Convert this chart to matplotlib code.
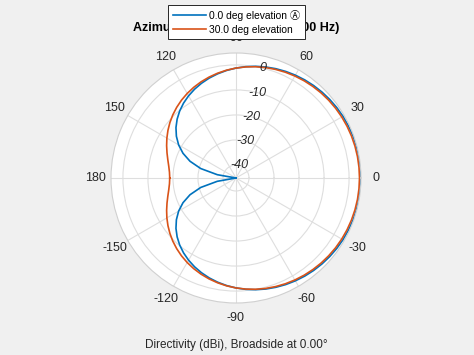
import numpy as np
import matplotlib
matplotlib.use("Agg")
import matplotlib.pyplot as plt

plt.rcParams['font.family'] = ['Liberation Sans', 'Noto Sans CJK SC', 'DejaVu Sans']

# ---- data ----
azimuth_deg = np.arange(-180, 181, 5)
el0_dbi = [
    -45.2, -45.2, -37.62, -30.60, -25.64, -21.82, -18.71, -16.11, -13.87, -11.92,
    -10.19, -8.65, -7.27, -6.02, -4.89, -3.85, -2.91, -2.04, -1.25, -0.53,
    0.14, 0.75, 1.30, 1.81, 2.27, 2.69, 3.06, 3.39, 3.69, 3.95,
    4.17, 4.35, 4.50, 4.62, 4.70, 4.75,
    4.77,
    4.75, 4.70, 4.62, 4.50, 4.35, 4.17, 3.95, 3.69, 3.39, 3.06,
    2.69, 2.27, 1.81, 1.30, 0.75, 0.14, -0.53, -1.25, -2.04, -2.91,
    -3.85, -4.89, -6.02, -7.27, -8.65, -10.19, -11.92, -13.87, -16.11, -18.71,
    -21.82, -25.64, -30.60, -37.62, -45.2, -45.2]
el30_dbi = [
    -18.71, -18.50, -17.90, -16.98, -15.85, -14.60, -13.29, -11.99, -10.71, -9.48,
    -8.32, -7.21, -6.18, -5.21, -4.30, -3.46, -2.67, -1.93, -1.25, -0.62,
    -0.03, 0.51, 1.00, 1.46, 1.87, 2.25, 2.59, 2.90, 3.17, 3.41,
    3.61, 3.78, 3.92, 4.03, 4.11, 4.15,
    4.17,
    4.15, 4.11, 4.03, 3.92, 3.78, 3.61, 3.41, 3.17, 2.90, 2.59,
    2.25, 1.87, 1.46, 1.00, 0.51, -0.03, -0.62, -1.25, -1.93, -2.67,
    -3.46, -4.30, -5.21, -6.18, -7.21, -8.32, -9.48, -10.71, -11.99, -13.29,
    -14.60, -15.85, -16.98, -17.90, -18.50, -18.71]
series_labels = ['0.0 deg elevation \u24B6', '30.0 deg elevation']
theta_ticks = [0, 30, 60, 90, 120, 150, 180, 210, 240, 270, 300, 330]
theta_labels = ['0', '30', '60', '90', '120', '150', '180', '-150', '-120', '-90', '-60', '-30']
r_ticks = [-40, -30, -20, -10, 0]
r_min, r_max = -45.2, 4.77
title_text = 'Azimuth Cut (frequency = 1000 Hz)'
xlabel_text = 'Directivity (dBi), Broadside at 0.00\u00b0'

# ---- figure ----
W, H = 474, 355
fig = plt.figure(figsize=(W / 100, H / 100), dpi=100, facecolor='#f0f0f0')
cx, cy, R = 236, 178, 125
ax = fig.add_axes([(cx - R) / W, (H - cy - R) / H, 2 * R / W, 2 * R / H], projection='polar')
ax.set_facecolor('white')

th = np.deg2rad(azimuth_deg)
l1, = ax.plot(th, el0_dbi, color='#0072BD', lw=1.2)
l2, = ax.plot(th, el30_dbi, color='#D95319', lw=1.2)

ax.set_ylim(r_min, r_max)
ax.set_yticks(r_ticks)
ax.set_yticklabels([])
ax.set_xticks(np.deg2rad(theta_ticks))
ax.set_xticklabels(theta_labels, fontsize=9, color='#262626')
ax.tick_params(axis='x', pad=4, length=0)
ax.tick_params(axis='y', length=0)
ax.grid(True, color='#dedede', lw=0.8)
ax.spines['polar'].set_color('#d0d0d0')
ax.spines['polar'].set_linewidth(0.8)

for rv in r_ticks:
    ax.text(np.deg2rad(76), rv, str(rv), fontsize=9, style='italic', color='#262626',
            ha='center', va='center', zorder=5)

fig.text(cx / W, 1 - 28 / H, title_text, fontsize=9, fontweight='bold',
         ha='center', va='center', color='black')
fig.text(cx / W, 1 - 345 / H, xlabel_text, fontsize=8.5, ha='center', va='center', color='#262626')

leg = fig.legend([l1, l2], series_labels, loc='upper center',
                 bbox_to_anchor=(236.5 / W, 1 - 5 / H), fontsize=7.4, frameon=True,
                 fancybox=False, framealpha=1, edgecolor='#262626', handlelength=3.2,
                 borderpad=0.45, labelspacing=0.38, handletextpad=0.35, borderaxespad=0)
leg.get_frame().set_linewidth(0.7)

fig.savefig('out.png', dpi=100, facecolor=fig.get_facecolor())
